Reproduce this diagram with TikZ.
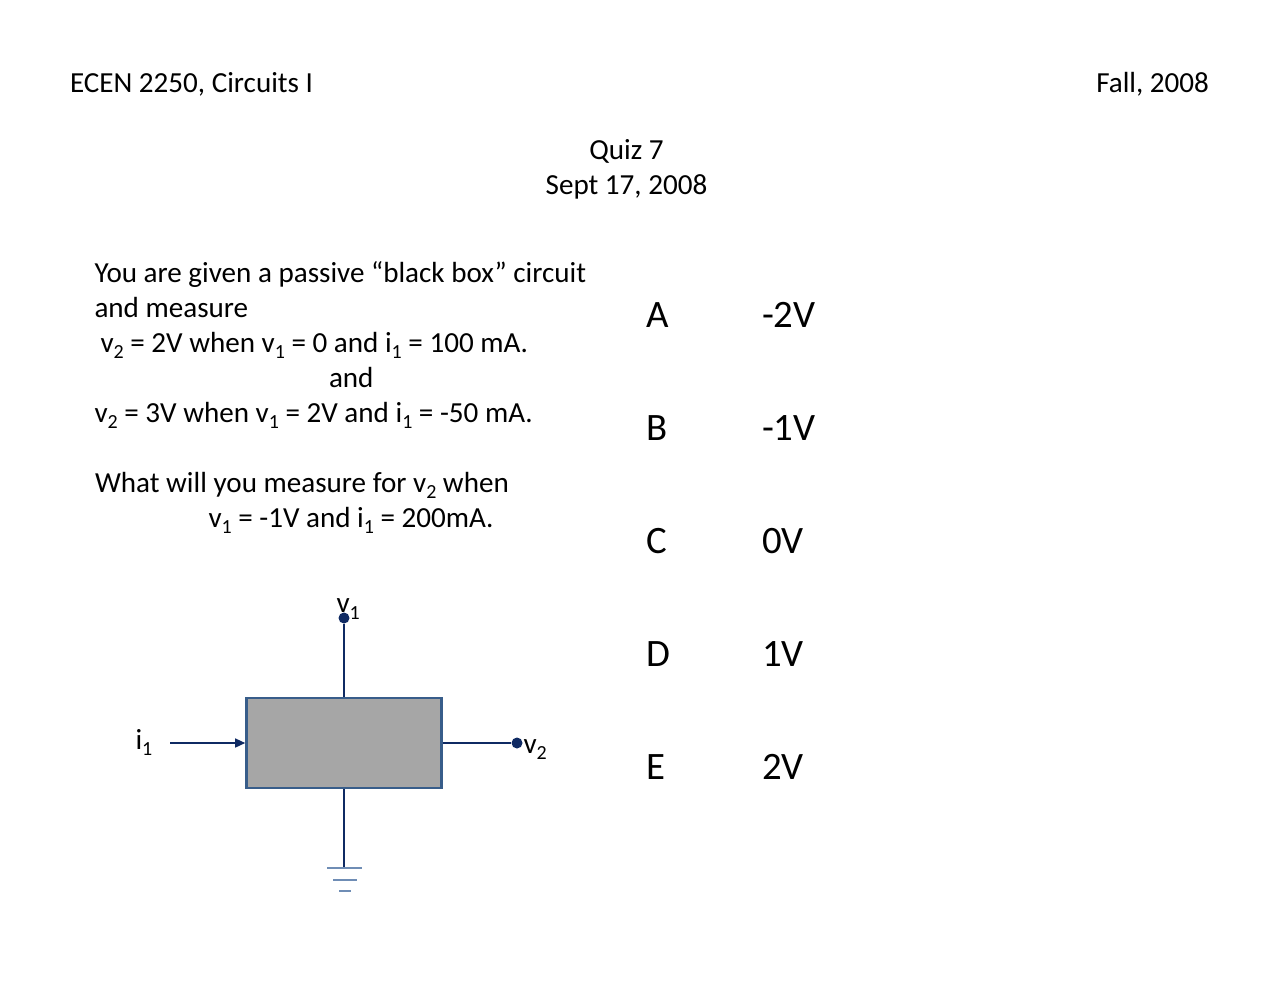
\documentclass[tikz,border=0pt]{standalone}
\usepackage{fontspec}
\setmainfont{Carlito}
\usetikzlibrary{arrows.meta}
\definecolor{wire}{HTML}{0F2A63}
\definecolor{boxedge}{HTML}{385D8A}
\definecolor{boxfill}{HTML}{A6A6A6}
\definecolor{gnd}{HTML}{6F8DB5}
\newcommand{\sbs}[1]{\raisebox{-6.5pt}{\fontsize{20}{20}\selectfont #1}}
\tikzset{
 txt/.style={anchor=base west,inner sep=0pt,outer sep=0pt,font=\fontsize{29.1}{29.1}\selectfont},
 big/.style={anchor=base west,inner sep=0pt,outer sep=0pt,font=\fontsize{38.8}{38.8}\selectfont},
 ctr/.style={txt,anchor=base},
 wireline/.style={draw=wire,line width=1.4pt},
 gndline/.style={draw=gnd,line width=1.4pt},
 termdot/.style={circle,fill=wire,inner sep=0pt,minimum size=11pt}
}
\begin{document}
\begin{tikzpicture}[x=1pt,y=-1pt]
\useasboundingbox[fill=white] (0,0) rectangle (1280,989);
\node[txt] (course) at (70,92) {ECEN 2250, Circuits I};
\node[txt,anchor=base east] (term) at (1209,92) {Fall, 2008};
\node[ctr] (quiz) at (626.5,159) {Quiz 7};
\node[ctr] (date) at (626.5,194) {Sept 17, 2008};
\node[txt] (l1) at (94.5,282) {You are given a passive “black box” circuit};
\node[txt] (l2) at (94.5,317) {and measure};
\node[txt] (l3) at (100.5,352) {v\sbs{2} = 2V when v\sbs{1} = 0 and i\sbs{1} = 100 mA.};
\node[txt] (l4) at (329,387) {and};
\node[txt] (l5) at (94.5,422) {v\sbs{2} = 3V when v\sbs{1} = 2V and i\sbs{1} = -50 mA.};
\node[txt] (l6) at (95,492) {What will you measure for v\sbs{2} when};
\node[txt] (l7) at (208.5,527) {v\sbs{1} = -1V and i\sbs{1} = 200mA.};
\foreach \n/\a/\b/\y in {a/A/-2V/327.5,b/B/-1V/440.5,c/C/0V/553.5,d/D/1V/666.5,e/E/2V/779.5}{
 \node[big] (let\n) at (646,\y) {\a};
 \node[big] (val\n) at (762,\y) {\b};
}
\node[draw=boxedge,fill=boxfill,line width=2.6pt,minimum width=195pt,minimum height=90pt,inner sep=0pt] (box) at (344,743) {};
\node[termdot] (v1dot) at (344,618) {};
\node[termdot] (v2dot) at (517,743) {};
\coordinate (gtop) at (344,868);
\coordinate (iend) at (170,743);
\draw[wireline] (v1dot) -- (box.north);
\draw[wireline] (box.east) -- (v2dot);
\draw[wireline] (box.south) -- (gtop);
\draw[wireline,-{Triangle[length=10pt,width=9pt]}] (iend) -- (box.west);
\draw[gndline] (327,868) -- (362,868) (333,880) -- (357,880) (339,891) -- (351,891);
\node[txt] (v1lab) at (336.5,612.5) {v\sbs{1}};
\node[txt] (v2lab) at (523.5,753) {v\sbs{2}};
\node[txt] (i1lab) at (135.5,749) {i\sbs{1}};
\end{tikzpicture}
\end{document}
